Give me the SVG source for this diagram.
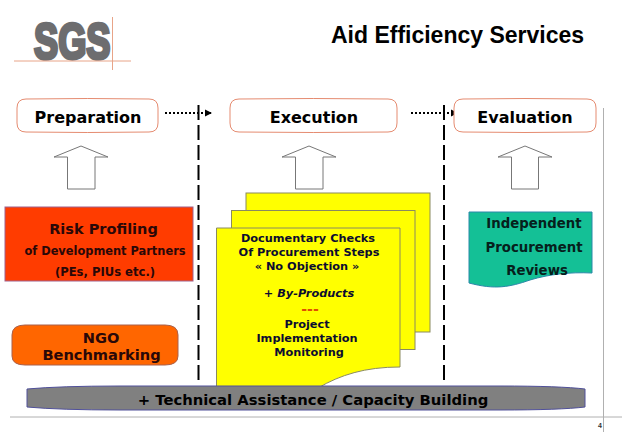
<svg xmlns="http://www.w3.org/2000/svg" width="638" height="442" viewBox="0 0 638 442">
<defs>
<marker id="dot-arrow" markerUnits="userSpaceOnUse" markerWidth="8" markerHeight="8" refX="7" refY="4" orient="auto"><path d="M0 0.5L7 4L0 7.5Z" fill="#000"/></marker>
</defs>
<style>
text{font-family:"DejaVu Sans",Verdana,sans-serif;font-weight:bold;fill:#000;text-anchor:middle}
.head{font-size:16px}
.stage{fill:#fff;stroke:#e58b70;stroke-width:1}
.up{fill:#fff;stroke:#777;stroke-width:1}
.page{fill:#ffff00;stroke:#8a8a60;stroke-width:1}
.doc{font-size:11.300px;fill:#0c0c30}
.risk{fill:#2a0808}
.rule{stroke:#b0b0b0;stroke-width:1;fill:none}
.dash{stroke:#000;stroke-width:2;stroke-dasharray:15 5;fill:none}
.dots{stroke:#000;stroke-width:2;stroke-dasharray:2 2;fill:none;marker-end:url(#dot-arrow)}
</style>
<rect width="638" height="442" fill="#fff"/>
<g id="logo">
<text transform="translate(34 59) scale(0.66 1)" style="font-family:'Liberation Sans',Arial,sans-serif;font-size:50px;text-anchor:start;fill:#6d6d6f;stroke:#6d6d6f;stroke-width:3.500px" textLength="116" lengthAdjust="spacingAndGlyphs">SGS</text>
<path d="M14 61H131M112.500 17V70" stroke="#e8a488" stroke-width="1" fill="none"/>
</g>
<text id="title" x="457.500" y="43" style="font-family:'Liberation Sans',Arial,sans-serif;font-size:23px">Aid Efficiency Services</text>
<g id="connectors">
<path class="dash" d="M198.500 105V383"/>
<path class="dash" d="M444 105V383"/>
<path class="dots" d="M165 113H212"/>
<path class="dots" d="M411 113H458"/>
</g>
<g id="preparation">
<path class="stage" d="M17 108Q17 99 26 99Q87 98 149 99Q158 99 158 108V123Q158 132 149 132Q87 133 26 132Q17 132 17 123Z"/>
<text class="head" x="88" y="122.500">Preparation</text>
</g>
<g id="execution">
<path class="stage" d="M230 108Q230 99 239 99Q313 98 388 99Q397 99 397 108V123Q397 132 388 132Q313 133 239 132Q230 132 230 123Z"/>
<text class="head" x="314" y="122.500">Execution</text>
</g>
<g id="evaluation">
<path class="stage" d="M454 108Q454 99 463 99Q525 98 587 99Q596 99 596 108V123Q596 132 587 132Q525 133 463 132Q454 132 454 123Z"/>
<text class="head" x="525" y="122.500">Evaluation</text>
</g>
<g id="arrow-preparation"><path class="up" d="M81 146L108 157H95V189H67.500V157H54Z"/></g>
<g id="arrow-execution"><path class="up" d="M309 146L336 157H323V189H295.500V157H282Z"/></g>
<g id="arrow-evaluation"><path class="up" d="M525 146L552 157H538.500V189H511.500V157H498Z"/></g>
<g id="risk-profiling">
<rect x="5" y="207" width="188" height="74" fill="#ff3c00" stroke="#a0608c"/>
<text class="risk" x="103.500" y="234" style="font-size:14.500px">Risk Profiling</text>
<text class="risk" x="105" y="255" style="font-size:11.400px">of Development Partners</text>
<text class="risk" x="105" y="276" style="font-size:11.600px">(PEs, PIUs etc.)</text>
</g>
<g id="ngo-benchmarking">
<path d="M12 335Q12 325 25 325H165Q178 325 178 335V356Q178 365 165 365H25Q12 365 12 356Z" fill="#ff6600" stroke="#a8604c"/>
<text class="risk" x="101" y="343" style="font-size:14.600px">NGO</text>
<text class="risk" x="101.500" y="360" style="font-size:14.600px">Benchmarking</text>
</g>
<g id="documents">
<rect class="page" x="246" y="193" width="184" height="139"/>
<rect class="page" x="231.500" y="210.500" width="183.500" height="139"/>
<path class="page" d="M216.500 228H400V367C365 367 340 375 318 388H216.500Z"/>
<text class="doc" x="308" y="242">Documentary Checks</text>
<text class="doc" x="309" y="256">Of Procurement Steps</text>
<text class="doc" x="307" y="270">« No Objection »</text>
<text class="doc" x="309" y="297" style="font-style:italic">+ By-Products</text>
<text x="310" y="314" style="font-size:14px;fill:#e05000">---</text>
<text class="doc" x="307" y="328">Project</text>
<text class="doc" x="307" y="342">Implementation</text>
<text class="doc" x="309" y="356">Monitoring</text>
</g>
<g id="independent-reviews">
<path d="M469 212H592V273C570 272 550 274 530 280C510 287 495 290 469 283Z" fill="#14c096" stroke="#2a88a8"/>
<text class="risk" x="534" y="228" style="font-size:13.300px;fill:#06201c">Independent</text>
<text class="risk" x="534" y="252" style="font-size:13.300px;fill:#06201c">Procurement</text>
<text class="risk" x="537" y="275" style="font-size:13.300px;fill:#06201c">Reviews</text>
</g>
<g id="technical-assistance">
<path d="M27 389Q60 386 120 386H500Q560 386 585 389V407Q560 410 500 410H120Q60 410 27 407Z" fill="#808080" stroke="#50509a"/>
<text x="313" y="405" style="font-size:14.800px">+ Technical Assistance / Capacity Building</text>
</g>
<g id="frame">
<path class="rule" d="M10 417H622M603.500 108V432"/>
<text x="600" y="428" style="font-size:7px;font-family:'Liberation Sans',sans-serif;fill:#333">4</text>
</g>
</svg>
